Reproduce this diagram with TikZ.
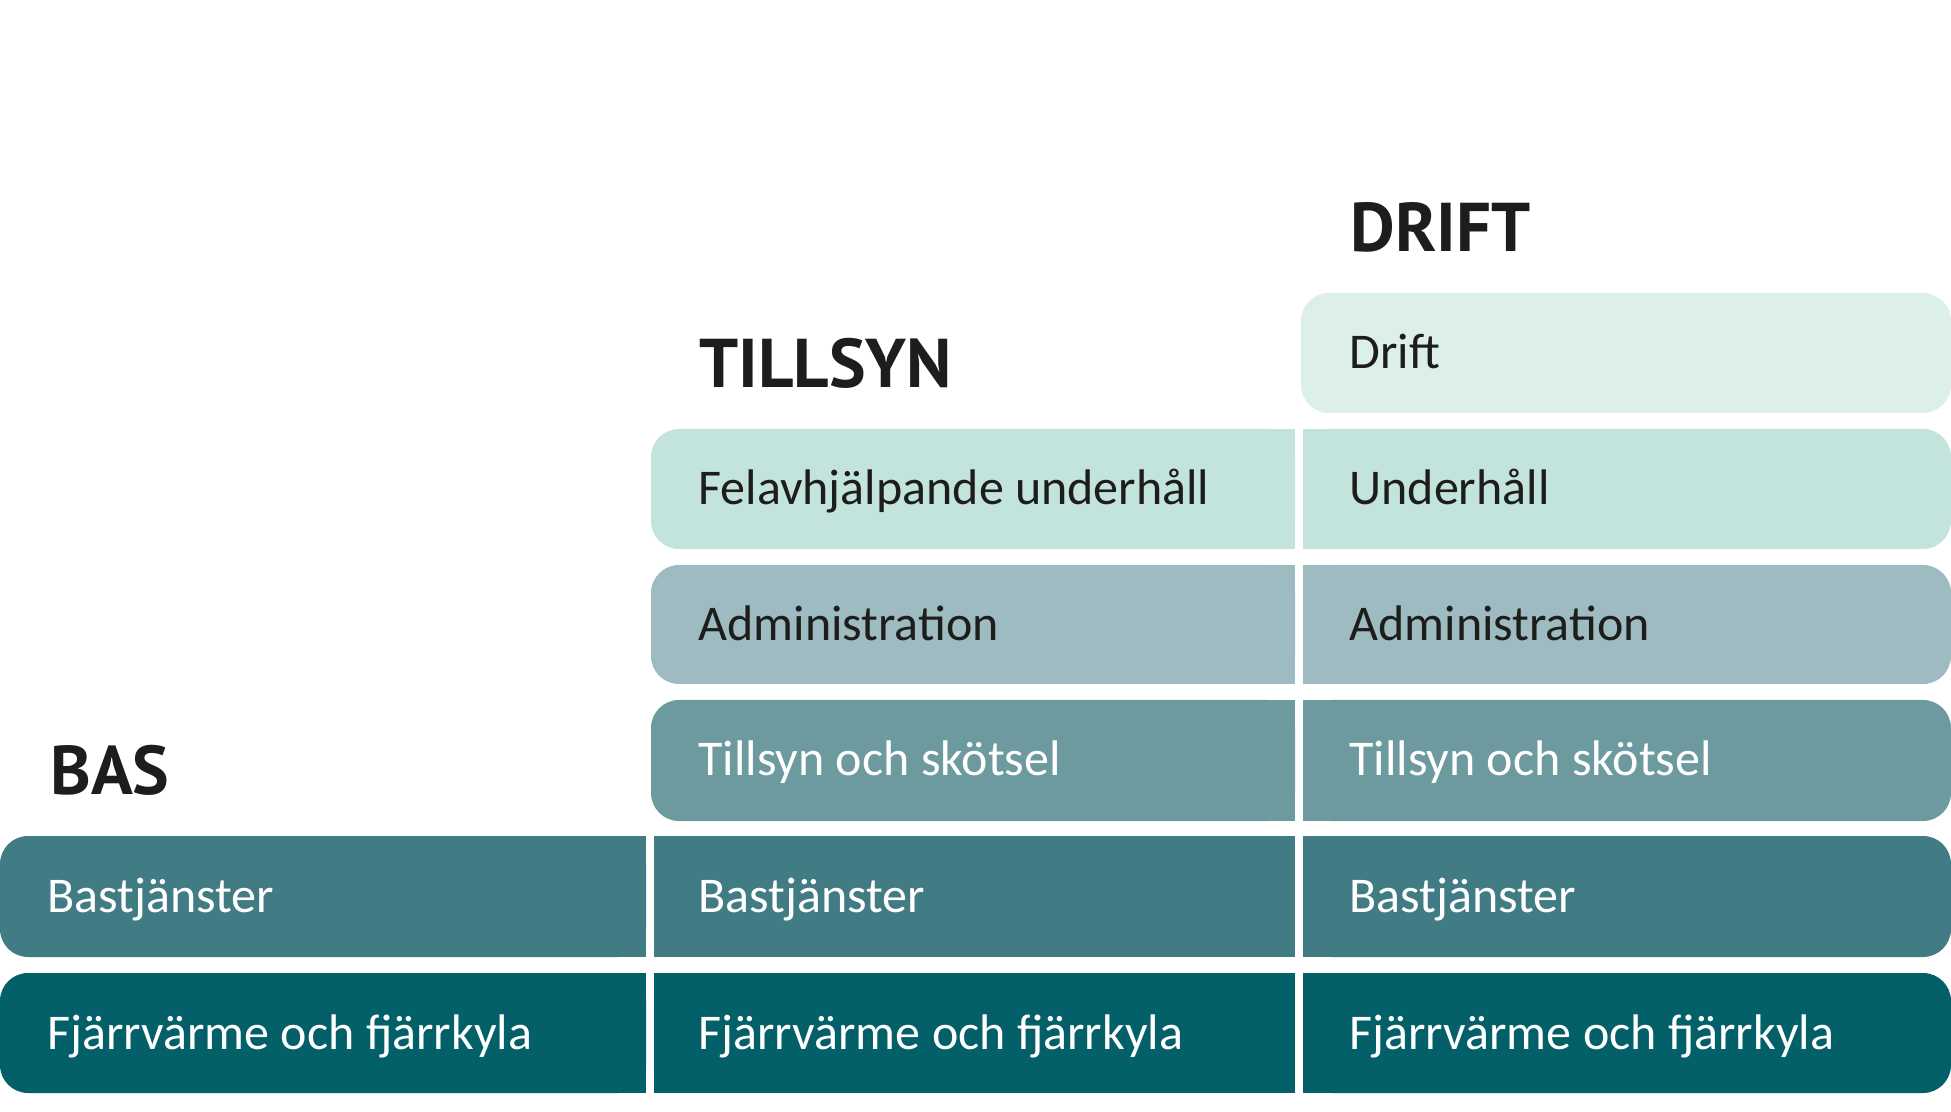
\documentclass[tikz,border=0pt]{standalone}
\usepackage{fontspec}
\setmainfont{Carlito}
\newfontfamily\headfont{PT Sans}
\definecolor{rowdrift}{RGB}{221,239,235}
\definecolor{rowunder}{RGB}{195,227,221}
\definecolor{rowadmin}{RGB}{157,187,192}
\definecolor{rowtill}{RGB}{109,154,159}
\definecolor{rowbas}{RGB}{65,123,132}
\definecolor{rowfjarr}{RGB}{3,95,104}
\definecolor{inkdark}{RGB}{29,29,27}
\tikzset{
  head/.style={anchor=base west, inner sep=0pt, text=inkdark,
    font=\headfont\bfseries\fontsize{34.5}{34.5}\selectfont},
  lbl/.style={anchor=base west, inner sep=0pt, font=\fontsize{25}{25}\selectfont},
  lbldark/.style={lbl, text=inkdark},
  lbllight/.style={lbl, text=white},
  roundbox/.style={rounded corners=14pt},
}
\begin{document}
\begin{tikzpicture}[x=0.5pt,y=0.5pt,yscale=-1,xscale=1]
\useasboundingbox (0,0) rectangle (1951,1112);

%Shape: Rectangle, row Drift
\fill [rowdrift, roundbox] (1301,293) rectangle (1951,413);
%Shape: Rectangle, row Underhall
\fill [rowunder, roundbox] (651,429) rectangle (1295,549);
\fill [rowunder] (950,429) rectangle (1295,549);
\fill [rowunder, roundbox] (1303,429) rectangle (1951,549);
\fill [rowunder] (1303,429) rectangle (1600,549);
%Shape: Rectangle, row Administration
\fill [rowadmin, roundbox] (651,565) rectangle (1295,684);
\fill [rowadmin] (950,565) rectangle (1295,684);
\fill [rowadmin, roundbox] (1303,565) rectangle (1951,684);
\fill [rowadmin] (1303,565) rectangle (1600,684);
%Shape: Rectangle, row Tillsyn
\fill [rowtill, roundbox] (651,700) rectangle (1295,821);
\fill [rowtill] (950,700) rectangle (1295,821);
\fill [rowtill, roundbox] (1303,700) rectangle (1951,821);
\fill [rowtill] (1303,700) rectangle (1600,821);
%Shape: Rectangle, row Bastjanster
\fill [rowbas, roundbox] (0,836) rectangle (646,957);
\fill [rowbas] (300,836) rectangle (646,957);
\fill [rowbas] (654,836) rectangle (1295,957);
\fill [rowbas, roundbox] (1303,836) rectangle (1951,957);
\fill [rowbas] (1303,836) rectangle (1600,957);
%Shape: Rectangle, row Fjarrvarme
\fill [rowfjarr, roundbox] (0,973) rectangle (646,1093);
\fill [rowfjarr] (300,973) rectangle (646,1093);
\fill [rowfjarr] (654,973) rectangle (1295,1093);
\fill [rowfjarr, roundbox] (1303,973) rectangle (1951,1093);
\fill [rowfjarr] (1303,973) rectangle (1600,1093);

% Text Node
\node (hBas) [head] at (50,794) {BAS};
% Text Node
\node (hTill) [head] at (699,388) {TILLSYN};
% Text Node
\node (hDrift) [head] at (1350,252) {DRIFT};

% Text Node
\node (dDrift) [lbldark] at (1349,369) {Drift};
% Text Node
\node (tFel) [lbldark] at (698,505) {Felavhjälpande underhåll};
% Text Node
\node (dUnder) [lbldark] at (1349,505) {Underhåll};
% Text Node
\node (tAdm) [lbldark] at (698,641) {Administration};
% Text Node
\node (dAdm) [lbldark] at (1349,641) {Administration};
% Text Node
\node (tTill) [lbllight] at (698,776) {Tillsyn och skötsel};
% Text Node
\node (dTill) [lbllight] at (1349,776) {Tillsyn och skötsel};
% Text Node
\node (bBas) [lbllight] at (47,912) {Bastjänster};
% Text Node
\node (tBas) [lbllight] at (698,912) {Bastjänster};
% Text Node
\node (dBas) [lbllight] at (1349,912) {Bastjänster};
% Text Node
\node (bFj) [lbllight] at (47,1049) {Fjärrvärme och fjärrkyla};
% Text Node
\node (tFj) [lbllight] at (698,1049) {Fjärrvärme och fjärrkyla};
% Text Node
\node (dFj) [lbllight] at (1349,1049) {Fjärrvärme och fjärrkyla};

\end{tikzpicture}
\end{document}
